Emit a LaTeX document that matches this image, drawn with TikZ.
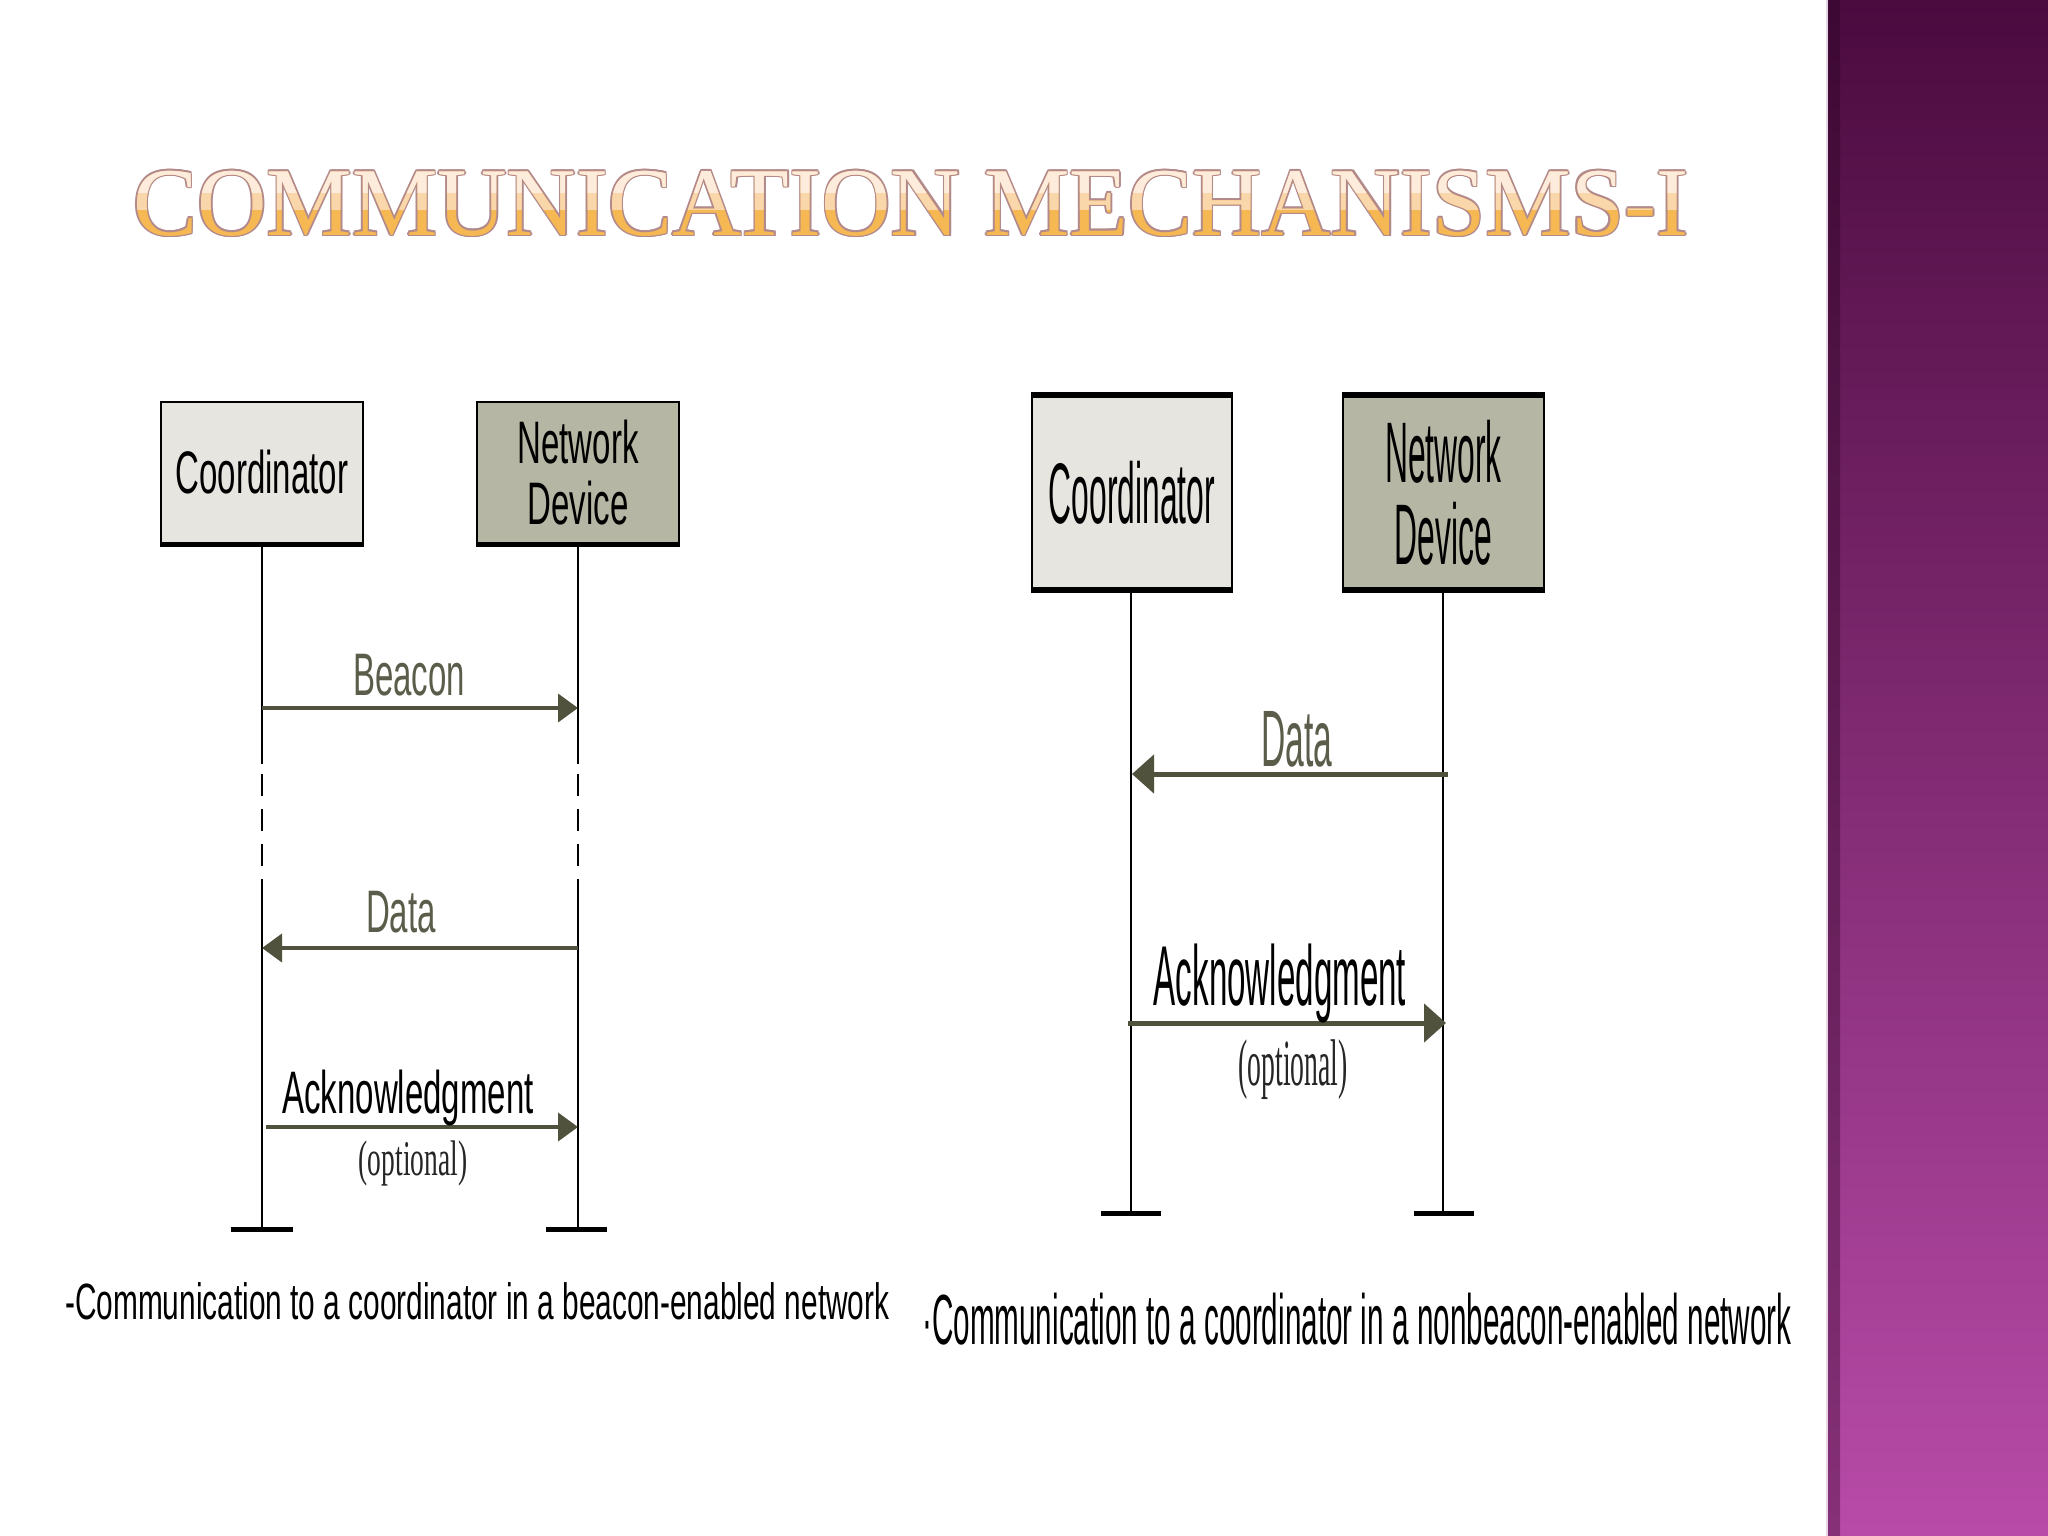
\documentclass[tikz,border=0pt]{standalone}
\usepackage{fontspec}
\usetikzlibrary{arrows.meta}
\setmainfont{Liberation Serif}
\newfontfamily\fA[FakeStretch=0.55]{Liberation Sans}
\newfontfamily\fB[FakeStretch=0.37]{Liberation Sans}
\newfontfamily\fBa[FakeStretch=0.39]{Liberation Sans}
\newfontfamily\fBd[FakeStretch=0.42]{Liberation Sans}
\newfontfamily\fCl[FakeStretch=0.585]{Liberation Sans}
\newfontfamily\fCr[FakeStretch=0.418]{Liberation Sans}
\newfontfamily\sA[FakeStretch=0.55]{Liberation Serif}
\newfontfamily\sB[FakeStretch=0.42]{Liberation Serif}
\newfontfamily\tF[FakeStretch=0.99]{Liberation Serif}
\definecolor{arrowc}{HTML}{50523D}
\definecolor{labelc}{HTML}{5B5D4A}
\definecolor{coordfill}{HTML}{E6E5E0}
\definecolor{devfill}{HTML}{B5B6A4}
\definecolor{bandtop}{HTML}{4B0B3F}
\definecolor{bandmid}{HTML}{843379}
\definecolor{bandbot}{HTML}{B84BA8}
\definecolor{stripTop}{HTML}{3A0830}
\definecolor{stripBot}{HTML}{7A2A6C}
\definecolor{tOrange}{HTML}{F6B852}
\definecolor{tLight}{HTML}{FAD7AA}
\definecolor{tPale}{HTML}{FDEBDC}
\definecolor{tEdge}{HTML}{B38A8C}
\begin{document}
\begin{tikzpicture}[x=1pt,y=-1pt,
  lifebox/.style={draw=black, line width=2.5pt, inner sep=0pt, align=center},
  lifeline/.style={line width=2pt, draw=black},
  endbar/.style={line width=5pt, draw=black},
  msgA/.style={draw=arrowc, line width=4pt, -{Triangle[length=20pt,width=28pt]}},
  msgB/.style={draw=arrowc, line width=5pt, -{Triangle[length=22pt,width=38pt]}},
  ttl/.style={anchor=base, font=\tF\fontsize{97pt}{100pt}\selectfont, inner sep=0pt},
  smallA/.style={font=\fA\fontsize{60pt}{61pt}\selectfont},
  bigB/.style={font=\fB\fontsize{86pt}{82pt}\selectfont}]
\useasboundingbox (0,0) rectangle (2048,1536);
\fill[white] (0,0) rectangle (2048,1536);
% purple band
\shade[top color=bandtop, middle color=bandmid, bottom color=bandbot] (1826,0) rectangle (2048,1536);
\fill[fill=white!80!bandmid] (1826,0) rectangle (1828,1536);
\shade[top color=stripTop, bottom color=stripBot, opacity=0.8] (1828,0) rectangle (1840,1536);

% title
\foreach \dx/\dy [count=\i] in {-1.6/0,1.6/0,0/-1.6,0/1.6,-1.1/-1.1,1.1/1.1,-1.1/1.1,1.1/-1.1}
  \node[ttl, text=tEdge] (tedge\i) at (911+\dx,235+\dy) {COMMUNICATION MECHANISMS-I};
\node[ttl, text=tOrange] (title) at (911,235) {COMMUNICATION MECHANISMS-I};
\begin{scope}
  \clip (0,150) rectangle (1800,209);
  \node[ttl, text=tLight] (titleB) at (911,235) {COMMUNICATION MECHANISMS-I};
\end{scope}
\begin{scope}
  \clip (0,150) rectangle (1800,192);
  \node[ttl, text=tPale] (titleC) at (911,235) {COMMUNICATION MECHANISMS-I};
\end{scope}

% ---------- left diagram ----------
\node[lifebox, smallA, fill=coordfill, minimum width=202pt, minimum height=141pt] (lc) at (262,472.5) {Coordinator};
\node[lifebox, smallA, fill=devfill, minimum width=202pt, minimum height=141pt] (ld) at (578,472.5) {Network\\Device};
\draw[line width=4.5pt] (lc.south west) -- (lc.south east);
\draw[line width=4.5pt] (ld.south west) -- (ld.south east);

\coordinate (lcA) at (262,764); \coordinate (lcB) at (262,774); \coordinate (lcC) at (262,888); \coordinate (lcE) at (262,1229);
\coordinate (ldA) at (578,764); \coordinate (ldB) at (578,774); \coordinate (ldC) at (578,888); \coordinate (ldE) at (578,1229);
\draw[lifeline] (lc.south) -- (lcA);
\draw[lifeline, dash pattern=on 22pt off 13pt] (lcB) -- (lcC);
\draw[lifeline] (lcC) -- (lcE);
\draw[lifeline] (ld.south) -- (ldA);
\draw[lifeline, dash pattern=on 22pt off 13pt] (ldB) -- (ldC);
\draw[lifeline] (ldC) -- (ldE);
\coordinate (lcE1) at (231,1229); \coordinate (lcE2) at (293,1229);
\coordinate (ldE1) at (546,1229); \coordinate (ldE2) at (607,1229);
\draw[endbar] (lcE1) -- (lcE2);
\draw[endbar] (ldE1) -- (ldE2);

\coordinate (lb1) at (262,708); \coordinate (lb2) at (578,708);
\coordinate (ldt1) at (578,948); \coordinate (ldt2) at (262,948);
\coordinate (lak1) at (266,1127); \coordinate (lak2) at (578,1127);
\draw[msgA] (lb1) -- (lb2);
\draw[msgA] (ldt1) -- (ldt2);
\draw[msgA] (lak1) -- (lak2);
\node[smallA, anchor=base, text=labelc, inner sep=0pt] (lbeacon) at (409,695) {Beacon};
\node[smallA, anchor=base, text=labelc, inner sep=0pt] (ldata) at (401,932) {Data};
\node[smallA, anchor=base, text=black, inner sep=0pt] (lack) at (408,1113) {Acknowledgment};
\node[anchor=base, font=\sA\fontsize{50pt}{52pt}\selectfont, text=black!85, inner sep=0pt] (lopt) at (413,1175) {(optional)};

% ---------- right diagram ----------
\node[lifebox, bigB, fill=coordfill, minimum width=200pt, minimum height=193pt] (rc) at (1132,492.5) {Coordinator};
\node[lifebox, bigB, fill=devfill, minimum width=201pt, minimum height=193pt] (rd) at (1443.5,492.5) {Network\\Device};
\draw[line width=6pt] (rc.north west) -- (rc.north east);
\draw[line width=6pt] (rc.south west) -- (rc.south east);
\draw[line width=6pt] (rd.north west) -- (rd.north east);
\draw[line width=6pt] (rd.south west) -- (rd.south east);

\coordinate (rcE) at (1131,1213); \coordinate (rdE) at (1443,1213);
\draw[lifeline] (rc.south -| rcE) -- (rcE);
\draw[lifeline] (rd.south -| rdE) -- (rdE);
\coordinate (rcE1) at (1101,1213); \coordinate (rcE2) at (1161,1213);
\coordinate (rdE1) at (1414,1213); \coordinate (rdE2) at (1474,1213);
\draw[endbar] (rcE1) -- (rcE2);
\draw[endbar] (rdE1) -- (rdE2);

\coordinate (rdt1) at (1448,774); \coordinate (rdt2) at (1132,774);
\coordinate (rak1) at (1128,1023); \coordinate (rak2) at (1446,1023);
\draw[msgB] (rdt1) -- (rdt2);
\draw[msgB] (rak1) -- (rak2);
\node[anchor=base, font=\fBd\fontsize{80pt}{82pt}\selectfont, text=labelc, inner sep=0pt] (rdata) at (1297,766) {Data};
\node[anchor=base, font=\fBa\fontsize{85pt}{87pt}\selectfont, text=black, inner sep=0pt] (rack) at (1280,1005) {Acknowledgment};
\node[anchor=base, font=\sB\fontsize{66pt}{68pt}\selectfont, text=black!85, inner sep=0pt] (ropt) at (1293,1085) {(optional)};

% captions
\node[anchor=base west, font=\fCl\fontsize{51pt}{52pt}\selectfont, inner sep=0pt] (capl) at (65,1319) {-Communication to a coordinator in a beacon-enabled network};
\node[anchor=base west, font=\fCr\fontsize{71pt}{72pt}\selectfont, inner sep=0pt] (capr) at (922,1344) {·Communication to a coordinator in a nonbeacon-enabled network};
\end{tikzpicture}
\end{document}
